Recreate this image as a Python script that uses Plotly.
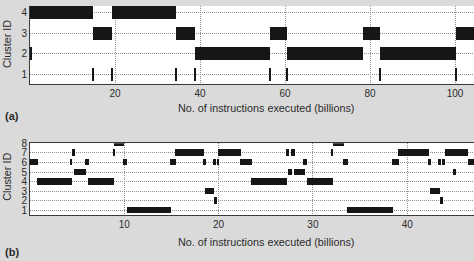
import plotly.graph_objects as go

# ---------------- data ----------------
# Panel (a): phase intervals (billions of instructions) per cluster
a_cluster = [4, 4, 3, 3, 3, 3, 3, 2, 2, 2, 2, 1, 1, 1, 1, 1, 1, 1, 1]
a_start = [0, 19.3, 14.9, 34.4, 56.5, 78.4, 100.2, 0, 38.8, 60.5, 82.4,
           14.75, 19.15, 34.25, 38.65, 56.35, 60.35, 82.25, 100.05]
a_end = [14.9, 34.4, 19.3, 38.8, 60.5, 82.4, 106.0, 0.35, 56.5, 78.4, 100.2,
         15.15, 19.55, 34.65, 39.05, 56.75, 60.75, 82.65, 100.45]
a_ticks = [20, 40, 60, 80, 100]
a_clusters = [1, 2, 3, 4]

# Panel (b)
b_cluster = [8, 8,
             7, 7, 7, 7, 7, 7, 7, 7, 7,
             6, 6, 6, 6, 6, 6, 6, 6, 6, 6, 6, 6, 6, 6, 6, 6,
             5, 5, 5, 5,
             4, 4, 4, 4,
             3, 3,
             2, 2,
             1, 1]
b_start = [8.94, 32.1,
           4.42, 8.84, 15.4, 19.97, 27.15, 27.68, 31.95, 39.06, 43.97,
           0.0, 4.3, 5.8, 9.9, 14.85, 18.35, 19.48, 19.8, 22.27, 28.98, 33.22, 38.42, 42.2, 43.37, 43.66, 46.45,
           4.7, 27.4, 27.99, 44.96,
           0.71, 6.18, 23.4, 29.34,
           18.56, 42.42,
           19.55, 43.45,
           10.25, 33.62]
b_end = [10.02, 33.33,
         4.8, 9.0, 18.45, 22.38, 27.5, 28.1, 32.15, 42.34, 46.45,
         0.8, 4.5, 6.3, 10.3, 15.45, 18.66, 19.69, 20.04, 23.5, 29.4, 33.72, 39.13, 42.56, 43.55, 44.0, 48.0,
         5.94, 27.8, 29.13, 45.17,
         4.42, 8.94, 27.29, 32.1,
         19.55, 43.45,
         19.83, 43.8,
         14.92, 38.53]
b_ticks = [10, 20, 30, 40]
b_clusters = [1, 2, 3, 4, 5, 6, 7, 8]

x_title = "No. of instructions executed (billions)"
y_title = "Cluster ID"

# ---------------- figure ----------------
W, H = 474, 261
FONT = "Liberation Sans, Arial, Helvetica, sans-serif"
BAR = "#161616"
TXT = "#2b2b2b"

fig = go.Figure()
fig.add_trace(go.Bar(
    orientation="h", y=a_cluster, base=a_start,
    x=[e - s for s, e in zip(a_start, a_end)],
    width=0.64, marker=dict(color=BAR, line=dict(width=0)),
    xaxis="x", yaxis="y", cliponaxis=False, showlegend=False, hoverinfo="skip"))
fig.add_trace(go.Bar(
    orientation="h", y=b_cluster, base=b_start,
    x=[e - s for s, e in zip(b_start, b_end)],
    width=0.68, marker=dict(color=BAR, line=dict(width=0)),
    xaxis="x2", yaxis="y2", cliponaxis=False, showlegend=False, hoverinfo="skip"))

left = 30 / W
grid = dict(showgrid=True, griddash="1px,1px", gridcolor="#8f8f8f", gridwidth=1,
            zeroline=False, showline=True, linecolor="#3a3a3a", linewidth=1,
            ticks="", tickfont=dict(family=FONT, size=10, color=TXT))

fig.update_layout(
    width=W, height=H,
    margin=dict(l=0, r=0, t=0, b=0),
    paper_bgcolor="#dadada", plot_bgcolor="#ffffff",
    barmode="overlay", bargap=0,
    xaxis=dict(domain=[left, 1], range=[0, 444 / 4.25], tickvals=a_ticks,
               anchor="y", mirror=False, **grid),
    yaxis=dict(domain=[1 - 80 / H, 1], range=[0.52, 4.33], tickvals=a_clusters,
               anchor="x", **grid),
    xaxis2=dict(domain=[left, 1], range=[0, 444 / 9.43], tickvals=b_ticks,
                anchor="y2", mirror=True, **grid),
    yaxis2=dict(domain=[1 - 215 / H, 1 - 141 / H], range=[0.5, 8.0], tickvals=b_clusters,
                anchor="x2", **grid),
)

ann_font = dict(family=FONT, size=10.8, color=TXT)
anns = [
    dict(text=x_title, x=265.5 / W, y=1 - 105 / H),
    dict(text=x_title, x=265.5 / W, y=1 - 242.5 / H),
    dict(text=y_title, x=7 / W, y=1 - 39 / H, textangle=-90),
    dict(text=y_title, x=7 / W, y=1 - 175.5 / H, textangle=-90),
]
for a in anns:
    fig.add_annotation(xref="paper", yref="paper", showarrow=False,
                       xanchor="center", yanchor="middle", font=ann_font, **a)
for lab, yy in [("(a)", 113), ("(b)", 253)]:
    fig.add_annotation(xref="paper", yref="paper", showarrow=False, text="<b>" + lab + "</b>",
                       x=3 / W, y=1 - yy / H, xanchor="left", yanchor="middle",
                       font=dict(family=FONT, size=11, color=TXT))

fig.write_html("out.html")
